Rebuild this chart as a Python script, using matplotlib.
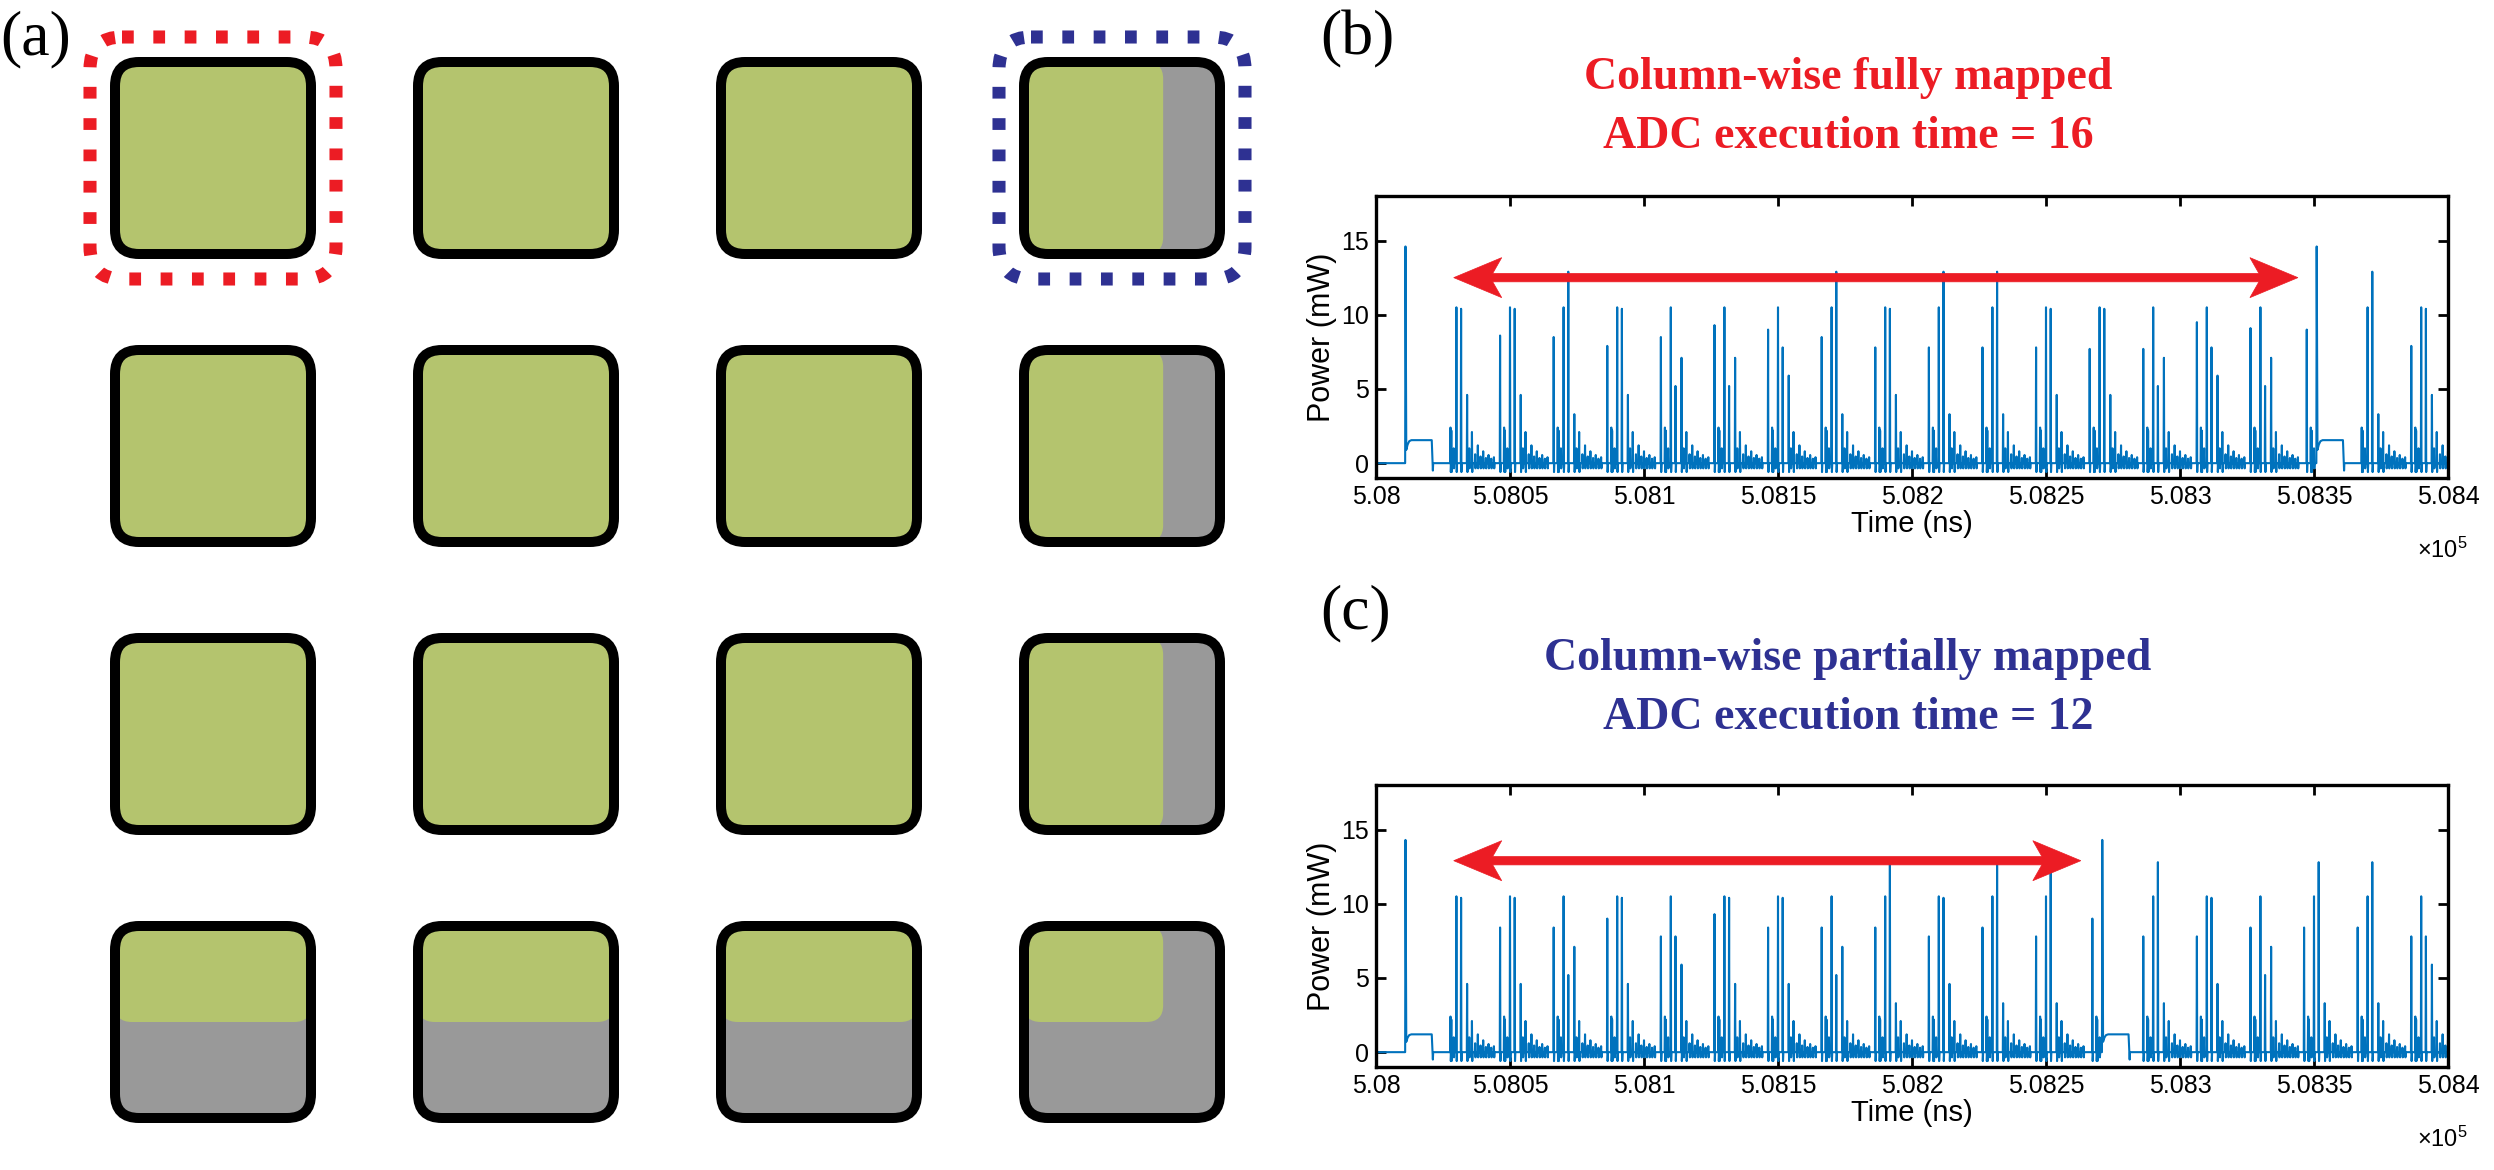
import numpy as np
import matplotlib
matplotlib.use('Agg')
import matplotlib.pyplot as plt
from matplotlib.patches import FancyBboxPatch, Polygon

W, H = 2494, 1170
DPI = 100

# ---------------- data ----------------
grid_rows = 4
grid_cols = 4
col_mapped_frac = [1.0, 1.0, 1.0, 0.71]    # mapped (green) share of crossbar width per column
row_mapped_frac = [1.0, 1.0, 1.0, 0.50]    # mapped (green) share of crossbar height per row

x_ticks = [5.08, 5.0805, 5.081, 5.0815, 5.082, 5.0825, 5.083, 5.0835, 5.084]
x_tick_labels = ['5.08', '5.0805', '5.081', '5.0815', '5.082', '5.0825', '5.083', '5.0835', '5.084']
y_ticks = [0, 5, 10, 15]
y_tick_labels = ['0', '5', '10', '15']

# spike pattern inside one ADC group (time offsets in units of 1e5 ns, relative to main spike)
off_A = -0.000037
pre_off = [-0.000022, -0.000019, -0.000010]
pre_h = [2.4, 2.2, 1.0]
off_B = 0.0000175
off_C = 0.000040
tail_off = [0.000048, 0.000058, 0.000070, 0.000080, 0.000090, 0.000100, 0.000110, 0.000120, 0.000130, 0.000140]
tail_h = [1.0, 2.1, 0.6, 1.2, 0.45, 0.8, 0.35, 0.55, 0.3, 0.4]
plat_off = [0.000003, 0.000008, 0.000014, 0.000022, 0.000098, 0.000101]

# panel (b): column-wise fully mapped
b_big_t = [5.08011, 5.08351]
b_big_h = [14.6, 14.6]
b_big_pre = [0.0, 9.0]
b_plat_h = [0.9, 1.25, 1.48, 1.55, 1.55, 0.0]
b_group_t = [5.0803, 5.0805, 5.0807, 5.0809, 5.0811, 5.0813, 5.0815, 5.0817, 5.0819,
             5.0821, 5.0823, 5.0825, 5.0827, 5.0829, 5.0831, 5.0833, 5.0837, 5.0839]
b_A = [0.0, 8.6, 8.5, 7.9, 8.5, 9.3, 9.0, 8.5, 7.8, 7.8, 7.8, 7.8, 7.7, 7.7, 9.5, 9.1, 0.0, 7.9]
b_M = [10.5, 10.5, 10.5, 10.5, 10.5, 10.5, 10.5, 10.5, 10.5, 10.5, 10.5, 10.5, 10.5, 10.5, 10.5, 10.5, 10.5, 10.5]
b_B = [10.4, 10.4, 12.9, 10.4, 5.2, 5.2, 7.8, 12.9, 10.4, 12.9, 12.9, 10.4, 10.4, 5.2, 7.8, 5.2, 12.9, 10.4]
b_C = [4.6, 4.6, 3.3, 4.6, 7.1, 7.1, 5.9, 3.3, 4.6, 3.3, 3.3, 4.6, 4.6, 7.1, 5.9, 7.1, 3.3, 4.6]
b_arrow_t = [5.08029, 5.08344]
b_arrow_y = 12.5

# panel (c): column-wise partially mapped
c_big_t = [5.08011, 5.08271]
c_big_h = [14.3, 14.3]
c_big_pre = [0.0, 9.0]
c_plat_h = [0.7, 0.98, 1.15, 1.2, 1.2, 0.0]
c_group_t = [5.0803, 5.0805, 5.0807, 5.0809, 5.0811, 5.0813, 5.0815, 5.0817, 5.0819,
             5.0821, 5.0823, 5.0825, 5.0829, 5.0831, 5.0833, 5.0835, 5.0837, 5.0839]
c_A = [0.0, 8.4, 8.4, 9.0, 7.8, 9.3, 8.4, 8.4, 8.4, 7.8, 8.4, 7.8, 7.8, 7.8, 8.4, 8.4, 8.4, 7.8]
c_M = [10.5, 10.5, 10.5, 10.5, 10.5, 10.5, 10.5, 10.5, 10.5, 10.5, 10.5, 10.5, 10.5, 10.5, 10.5, 10.5, 10.5, 10.5]
c_B = [10.4, 10.4, 5.2, 10.4, 7.8, 10.4, 10.4, 5.2, 12.8, 10.4, 12.8, 12.8, 12.8, 10.4, 5.2, 12.8, 12.8, 7.8]
c_C = [4.6, 4.6, 7.1, 4.6, 5.9, 4.6, 4.6, 7.1, 3.3, 4.6, 3.3, 3.3, 3.3, 4.6, 7.1, 3.3, 3.3, 5.9]
c_arrow_t = [5.08029, 5.08263]
c_arrow_y = 12.9

# ---------------- style ----------------
RED = '#EC1C24'
BLUE = '#2E3192'
GREEN = '#B4C46E'
GRAY = '#999999'
LINE = '#0072BD'
DT = 0.0000012

plt.rcParams['font.family'] = ['Liberation Sans', 'DejaVu Sans']
plt.rcParams['mathtext.default'] = 'regular'

fig = plt.figure(figsize=(W / DPI, H / DPI), dpi=DPI)


def fx(px):
    return px / W


def fy(py):
    return 1 - py / H


# ---------------- panel (a) ----------------
axa = fig.add_axes([0, 0, 1300 / W, 1])
axa.set_xlim(0, 1300)
axa.set_ylim(1170, 0)
axa.axis('off')
X0, Y0 = 115, 62
PX, PY = 303, 288
SW, SH = 196, 192
R = 24
for r in range(grid_rows):
    for c in range(grid_cols):
        x = X0 + c * PX
        y = Y0 + r * PY
        axa.add_patch(FancyBboxPatch((x, y), SW, SH, boxstyle=f'round,pad=0,rounding_size={R}',
                                     facecolor=GRAY, edgecolor='none', zorder=1))
        gw = SW * col_mapped_frac[c]
        gh = SH * row_mapped_frac[r]
        axa.add_patch(FancyBboxPatch((x, y), gw, gh, boxstyle=f'round,pad=0,rounding_size={R * 0.7}',
                                     facecolor=GREEN, edgecolor='none', zorder=2))
        axa.add_patch(FancyBboxPatch((x, y), SW, SH, boxstyle=f'round,pad=0,rounding_size={R}',
                                     facecolor='none', edgecolor='black', linewidth=7.2, zorder=3))
M = 25
for c, col in [(0, RED), (3, BLUE)]:
    x = X0 + c * PX
    axa.add_patch(FancyBboxPatch((x - M, Y0 - M), SW + 2 * M, SH + 2 * M,
                                 boxstyle='round,pad=0,rounding_size=32', facecolor='none',
                                 edgecolor=col, linewidth=9.4, linestyle=(0, (0.9, 1.5)),
                                 capstyle='butt', zorder=4))

fig.text(fx(0), fy(54), '(a)', family='Liberation Serif', fontsize=46, va='baseline', ha='left')


# ---------------- panels (b), (c) ----------------
def build_wave(group_t, A, Mh, B, C, big_t, big_h, big_pre, plat_h):
    ev = []
    for t, a, m, b, cc in zip(group_t, A, Mh, B, C):
        if a > 0:
            ev.append((t + off_A, a, 's'))
        for o, h in zip(pre_off, pre_h):
            ev.append((t + o, h, 's'))
        ev.append((t, m, 's'))
        ev.append((t + off_B, b, 's'))
        ev.append((t + off_C, cc, 's'))
        for o, h in zip(tail_off, tail_h):
            ev.append((t + o, h, 's'))
    for t, h, p in zip(big_t, big_h, big_pre):
        if p > 0:
            ev.append((t + off_A, p, 's'))
            for o, hh in zip(pre_off, pre_h):
                ev.append((t + o, hh, 's'))
        ev.append((t, h, 'b'))
    ev.sort(key=lambda e: e[0])
    xs = [5.0799]
    ys = [0.0]
    for t, h, kind in ev:
        if kind == 's':
            dip = 0.6 if h >= 1.5 else 0.35
            xs += [t - DT, t, t + DT, t + 2 * DT]
            ys += [0.0, h, -dip, 0.0]
        else:
            xs += [t - DT, t]
            ys += [0.0, h]
            for o, ph in zip(plat_off, plat_h):
                xs.append(t + o)
                ys.append(ph)
            xs += [plat_off[-1] + t + DT, plat_off[-1] + t + 2 * DT]
            ys += [-0.5, 0.0]
    xs.append(5.0842)
    ys.append(0.0)
    return np.array(xs), np.array(ys)


def arrow(ax, t0, t1, yv, color):
    fig.canvas.draw()
    (xl, yy) = ax.transData.transform((t0, yv))
    (xr, _) = ax.transData.transform((t1, yv))
    L, Wh, N, T = 48, 20, 9, 4.2
    pts = [(xl, yy), (xl + L, yy + Wh), (xl + L - N, yy + T), (xr - L + N, yy + T),
           (xr - L, yy + Wh), (xr, yy), (xr - L, yy - Wh), (xr - L + N, yy - T),
           (xl + L - N, yy - T), (xl + L, yy - Wh)]
    poly = Polygon(pts, closed=True, facecolor=color, edgecolor=color, linewidth=0.5,
                   transform=None, zorder=5)
    fig.patches.append(poly)
    poly.set_figure(fig)


def setup(ax):
    ax.set_xlim(5.08, 5.084)
    ax.set_ylim(-1, 18)
    ax.set_xticks(x_ticks)
    ax.set_xticklabels(x_tick_labels)
    ax.set_yticks(y_ticks)
    ax.set_yticklabels(y_tick_labels)
    ax.tick_params(direction='in', length=7, width=2, top=True, right=True,
                   labelsize=18, pad=5)
    for s in ax.spines.values():
        s.set_linewidth(2.4)
    ax.set_xlabel('Time (ns)', fontsize=21, labelpad=1)
    ax.set_ylabel('Power (mW)', fontsize=22, labelpad=3)
    ax.text(0.995, -0.255, r'$\times10^{5}$', transform=ax.transAxes, fontsize=17,
            ha='center', va='center')


L0, AW = 1376, 1072
AH = 282
axb = fig.add_axes([fx(L0), fy(196 + AH), AW / W, AH / H])
axc = fig.add_axes([fx(L0), fy(785 + AH), AW / W, AH / H])

xb, yb = build_wave(b_group_t, b_A, b_M, b_B, b_C, b_big_t, b_big_h, b_big_pre, b_plat_h)
xc, yc = build_wave(c_group_t, c_A, c_M, c_B, c_C, c_big_t, c_big_h, c_big_pre, c_plat_h)
axb.plot(xb, yb, color=LINE, linewidth=1.5)
axc.plot(xc, yc, color=LINE, linewidth=1.5)
setup(axb)
setup(axc)

arrow(axb, b_arrow_t[0], b_arrow_t[1], b_arrow_y, RED)
arrow(axc, c_arrow_t[0], c_arrow_t[1], c_arrow_y, RED)

TX = 1848
fig.text(fx(TX), fy(89), 'Column-wise fully mapped', family='Liberation Serif', weight='bold',
         fontsize=33, color=RED, ha='center', va='baseline')
fig.text(fx(TX), fy(148), 'ADC execution time = 16', family='Liberation Serif', weight='bold',
         fontsize=33, color=RED, ha='center', va='baseline')
fig.text(fx(TX), fy(670), 'Column-wise partially mapped', family='Liberation Serif', weight='bold',
         fontsize=33, color=BLUE, ha='center', va='baseline')
fig.text(fx(TX), fy(729), 'ADC execution time = 12', family='Liberation Serif', weight='bold',
         fontsize=33, color=BLUE, ha='center', va='baseline')
fig.text(fx(1320), fy(54), '(b)', family='Liberation Serif', fontsize=46, va='baseline', ha='left')
fig.text(fx(1320), fy(628), '(c)', family='Liberation Serif', fontsize=46, va='baseline', ha='left')

fig.savefig('out.png', dpi=DPI)
